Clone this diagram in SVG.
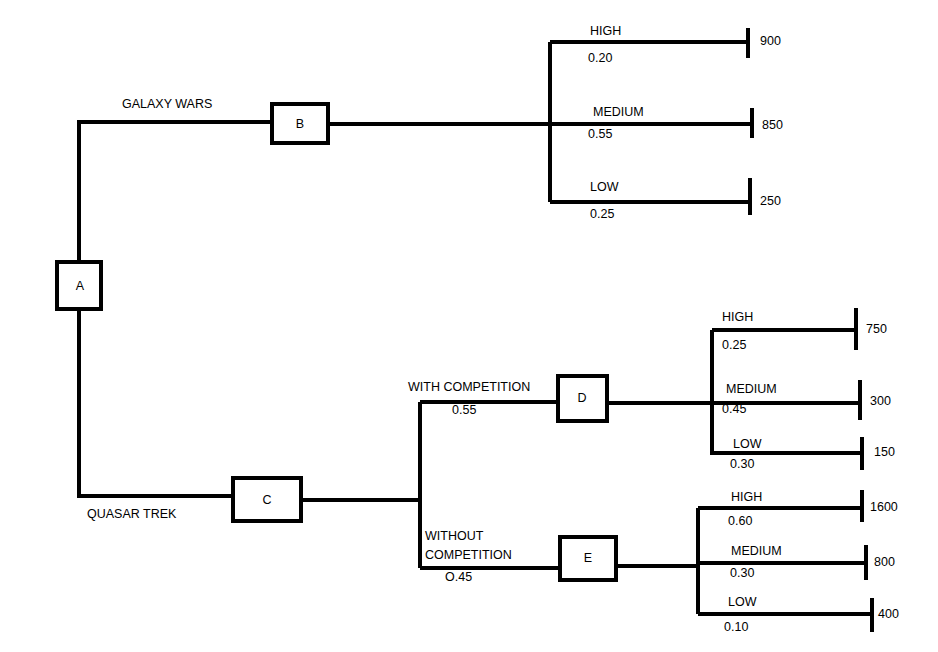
<svg xmlns="http://www.w3.org/2000/svg" width="938" height="652" viewBox="0 0 938 652">
<style>
.l{stroke:#000;stroke-width:4;fill:none}
.b{stroke:#000;stroke-width:4;fill:#fff}
text{font-family:"Liberation Sans",Arial,sans-serif;font-size:12.5px;fill:#000}
.c{text-anchor:middle}
</style>
<rect width="938" height="652" fill="#fff"/>
<g id="connectors">
<path class="l" d="M79,262V122H272M328,124H550M550,42V202M550,42H748M748,28V58M550,124H752M752,108V138M550,202H750M750,178V215"/>
<path class="l" d="M79,309V496H233M301,500H420M420,402V568M420,402H558M420,568H560"/>
<path class="l" d="M607,403H712M712,330V455M712,330H856M856,308V350M712,403H860M860,380V420M712,453H862M862,437V470"/>
<path class="l" d="M616,566H698M698,508V614M698,508H862M862,490V522M698,563H866M866,545V580M698,614H872M872,598V632"/>
<path d="M195,497H199" stroke="#000" stroke-width="1"/>
</g>
<g id="A"><rect class="b" x="57" y="262" width="44" height="47"/><text class="c" x="80" y="290">A</text></g>
<g id="B"><rect class="b" x="272" y="104" width="56" height="39"/><text class="c" x="300" y="128">B</text></g>
<g id="C"><rect class="b" x="233" y="478" width="68" height="43"/><text class="c" x="267" y="504">C</text></g>
<g id="D"><rect class="b" x="558" y="376" width="49" height="45"/><text class="c" x="582" y="402">D</text></g>
<g id="E"><rect class="b" x="560" y="537" width="56" height="43"/><text class="c" x="588" y="562">E</text></g>
<g id="labels">
<text x="122" y="108">GALAXY WARS</text>
<text x="87" y="518">QUASAR TREK</text>
<text x="590" y="35">HIGH</text><text x="588" y="62">0.20</text>
<text x="593" y="116">MEDIUM</text><text x="588" y="138">0.55</text>
<text x="590" y="191">LOW</text><text x="590" y="218">0.25</text>
<text x="760" y="45">900</text><text x="762" y="129">850</text><text x="760" y="205">250</text>
<text x="408" y="391">WITH COMPETITION</text><text x="452" y="414">0.55</text>
<text x="425" y="540">WITHOUT</text><text x="425" y="559">COMPETITION</text><text x="445" y="581">O.45</text>
<text x="722" y="321">HIGH</text><text x="722" y="349">0.25</text>
<text x="726" y="393">MEDIUM</text><text x="722" y="413">0.45</text>
<text x="733" y="448">LOW</text><text x="730" y="468">0.30</text>
<text x="866" y="333">750</text><text x="870" y="405">300</text><text x="874" y="456">150</text>
<text x="731" y="501">HIGH</text><text x="728" y="525">0.60</text>
<text x="731" y="555">MEDIUM</text><text x="730" y="577">0.30</text>
<text x="728" y="606">LOW</text><text x="724" y="631">0.10</text>
<text x="870" y="511">1600</text><text x="874" y="566">800</text><text x="878" y="618">400</text>
</g>
</svg>
